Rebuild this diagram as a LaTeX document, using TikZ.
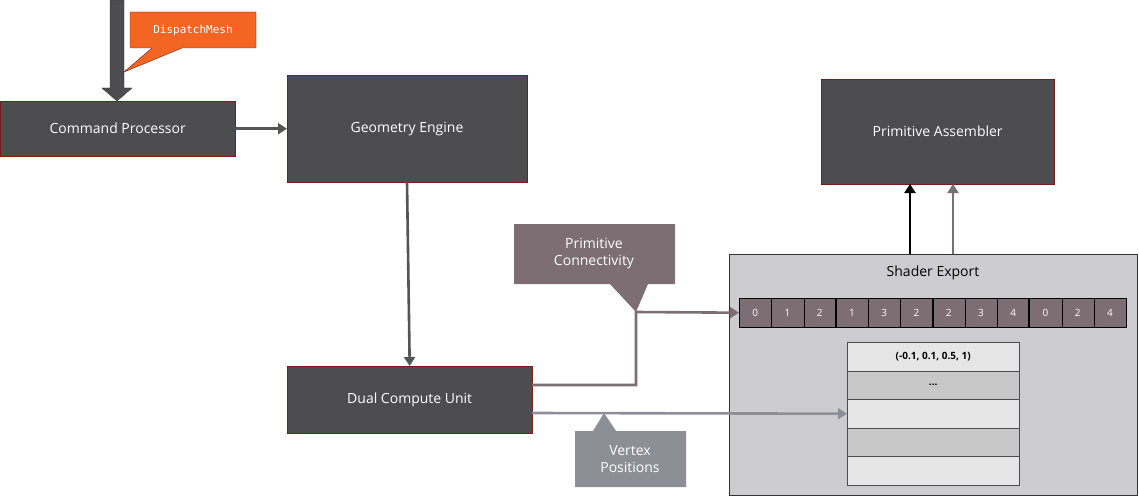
\documentclass[tikz,border=0pt]{standalone}
\usepackage{fontspec}
\setmainfont{Open Sans}
\newfontfamily\monof{DejaVu Sans Mono}
\usetikzlibrary{arrows.meta}
\definecolor{boxc}{HTML}{4D4D4F}
\definecolor{bordc}{HTML}{7A1A1A}
\definecolor{mauve}{HTML}{7C6E72}
\definecolor{vgray}{HTML}{8C9096}
\definecolor{seg}{HTML}{CDCDD1}
\definecolor{orng}{HTML}{F26522}
\definecolor{arr}{HTML}{555555}
\tikzset{
 blk/.style={draw=bordc,fill=boxc,text=white,font=\fontsize{14}{16}\selectfont,inner sep=0pt,anchor=north west},
 con/.style={line width=2.6pt,-{Triangle[length=9pt,width=11pt]}},
 cell/.style={draw=black,fill=mauve,text=white,minimum width=32.25pt,minimum height=29pt,inner sep=0pt,anchor=north west,font=\fontsize{10}{12}\selectfont},
 row/.style={draw=black!70,minimum width=172pt,minimum height=28.6pt,inner sep=0pt,anchor=north west,font=\bfseries\fontsize{10}{12}\selectfont},
}
\begin{document}
\begin{tikzpicture}[x=1pt,y=-1pt]
\useasboundingbox (0,0) rectangle (1139,497);
\node[blk,minimum width=235pt,minimum height=55pt] (cp) at (0,101) {Command Processor};
\node[blk,minimum width=240pt,minimum height=107pt] (ge) at (287,75) {};
\node[white,font=\fontsize{14}{16}\selectfont] at (407,129) {Geometry Engine};
\node[blk,minimum width=245pt,minimum height=67pt] (dcu) at (287,366) {Dual Compute Unit};
\node[blk,minimum width=233pt,minimum height=105pt] (pa) at (821,79) {Primitive Assembler};
\node[draw=black!80,fill=seg,minimum width=408pt,minimum height=241pt,inner sep=0pt,anchor=north west] (se) at (729,254) {};
\node[font=\fontsize{14}{16}\selectfont] at (933,273) {Shader Export};
% index array
\foreach \v [count=\i from 0] in {0,1,2,1,3,2,2,3,4,0,2,4}{
  \node[cell] (c\i) at ({739+\i*32.25},298) {\v};
}
\foreach \i in {3,6,9}{ \draw[line width=2pt] (c\i.north west) -- (c\i.south west); }
% vertex table
\foreach \t/\c [count=\i from 0] in {{(-0.1, 0.1, 0.5, 1)}/E6E6E6,{...}/C8C8C8,{}/E6E6E6,{}/C8C8C8,{}/E6E6E6}{
  \definecolor{rc}{HTML}{\c}
  \node[row,fill=rc] (r\i) at (847,{342+\i*28.6}) {\t};
}
% connectors
\draw[con,arr] (cp.east) -- (ge.west);
\draw[con,arr,line width=2.6pt] (407,182) coordinate (geb) -- (dcu.north);
\coordinate (j1) at (636,312);
\draw[con,mauve] (532,385) -| (j1) -- (c0.west);
\draw[con,vgray] (532,413) -- (r2.west);
\draw[con,black] (910,254) -- (910,184);
\draw[con,mauve] (953,254) -- (953,184);
% big arrow
\draw[draw=black!80,fill=boxc] (110,0) -- (124,0) -- (124,88) -- (132,88) -- (117,101) -- (102,88) -- (110,88) -- cycle;
% callouts
\draw[draw=bordc,fill=orng] (130,12) -- (256,12) -- (256,48) -- (182,48) -- (124,72) -- (152,48) -- (130,48) -- cycle;
\node[white,font=\monof\fontsize{11}{13}\selectfont] (dm) at (193,30) {DispatchMesh};
\fill[mauve] (514,224) -- (675,224) -- (675,284) -- (648,284) -- (636,312) -- (610,284) -- (514,284) -- cycle;
\node[white,align=center,font=\fontsize{14}{17}\selectfont] (pc) at (594,254) {Primitive\\Connectivity};
\fill[vgray] (575,431) -- (593,431) -- (604,413) -- (616,431) -- (686,431) -- (686,487) -- (575,487) -- cycle;
\node[white,align=center,font=\fontsize{14}{17}\selectfont] (vp) at (630,459) {Vertex\\Positions};
\end{tikzpicture}
\end{document}
